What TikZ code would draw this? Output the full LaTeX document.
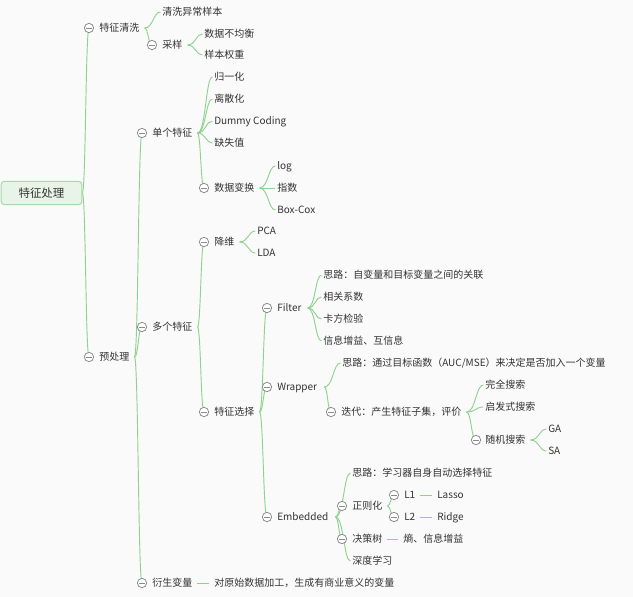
\documentclass[tikz,border=0pt]{standalone}
\usepackage{fontspec}
\setmainfont{Noto Sans CJK SC}
\usetikzlibrary{calc}
\definecolor{lc}{HTML}{8FD18F}
\definecolor{tc}{HTML}{333333}
\definecolor{cc}{HTML}{8C8C8C}
\definecolor{bgc}{HTML}{FAFAFA}
\definecolor{rootfill}{HTML}{E9F4E9}
\definecolor{rootdraw}{HTML}{A8D8A8}
\pgfdeclarelayer{back}
\pgfdeclarelayer{links}
\pgfsetlayers{back,links,main}
\begin{document}
\begin{tikzpicture}[x=0.75pt,y=-0.75pt,
  txt/.style={anchor=west, inner sep=0pt, text=tc, font=\fontsize{7.5pt}{9pt}\selectfont, text height=6.4pt, text depth=0.9pt},
  tog/.style={circle, draw=cc, fill=white, line width=0.6pt, minimum size=7pt, inner sep=0pt,
    path picture={\draw[cc, line width=0.6pt] ([xshift=-2.1pt]path picture bounding box.center) -- ([xshift=2.1pt]path picture bounding box.center);}},
  br/.style={draw=lc, line width=0.7pt, to path={let \p1=(\tikztostart), \p2=(\tikztotarget) in .. controls ({(\x1+\x2)/2},\y1) and ({(\x1+\x2)/2},\y2) .. (\tikztotarget)}},
  lf/.style={br, shorten >=1.2pt},
  dashln/.style={draw=lc, line width=0.7pt, shorten <=3.4pt, shorten >=3.4pt}
]
\useasboundingbox (0,0) rectangle (633,597);
\begin{pgfonlayer}{back}
\fill[bgc] (0,0) rectangle (633,597);
\end{pgfonlayer}

% root
\node[draw=rootdraw, fill=rootfill, rounded corners=2.5pt, line width=0.8pt, minimum width=60.5pt, minimum height=17.5pt, inner sep=0pt, text=tc, font=\fontsize{8.6pt}{10pt}\selectfont] (root) at (41.5,193) {特征处理};

% level 1
\node[tog] (c_qx) at (89,28) {};
\node[txt] (t_qx) at (99,28) {特征清洗};
\node[tog] (c_ycl) at (89,357) {};
\node[txt] (t_ycl) at (99,357) {预处理};

% 特征清洗
\node[txt] (l_qxyc) at (162,12) {清洗异常样本};
\node[tog] (c_cy) at (152,45) {};
\node[txt] (t_cy) at (162,45) {采样};
\node[txt] (l_bjh) at (204,34) {数据不均衡};
\node[txt] (l_qz) at (204,55) {样本权重};

% 预处理
\node[tog] (c_dg) at (142,133) {};
\node[txt] (t_dg) at (152,133) {单个特征};
\node[tog] (c_dd) at (142,327) {};
\node[txt] (t_dd) at (152,327) {多个特征};
\node[tog] (c_ys) at (142,583) {};
\node[txt] (t_ys) at (152,583) {衍生变量};
\node[txt] (l_ys) at (214,583) {对原始数据加工，生成有商业意义的变量};

% 单个特征
\node[txt] (l_gyh) at (214,77) {归一化};
\node[txt] (l_lsh) at (214,99) {离散化};
\node[txt] (l_dummy) at (214,121) {Dummy Coding};
\node[txt] (l_qsz) at (214,143) {缺失值};
\node[tog] (c_bh) at (204,188) {};
\node[txt] (t_bh) at (214,188) {数据变换};
\node[txt] (l_log) at (277,166) {log};
\node[txt] (l_zs) at (277,188) {指数};
\node[txt] (l_box) at (277,210) {Box-Cox};

% 多个特征
\node[tog] (c_jw) at (204,242) {};
\node[txt] (t_jw) at (214,242) {降维};
\node[txt] (l_pca) at (257,231) {PCA};
\node[txt] (l_lda) at (257,253) {LDA};
\node[tog] (c_xz) at (204,412) {};
\node[txt] (t_xz) at (214,412) {特征选择};

% 特征选择
\node[tog] (c_fi) at (267,308) {};
\node[txt] (t_fi) at (277,308) {Filter};
\node[tog] (c_wr) at (267,387) {};
\node[txt] (t_wr) at (277,387) {Wrapper};
\node[tog] (c_em) at (267,517) {};
\node[txt] (t_em) at (277,517) {Embedded};

% Filter
\node[txt] (l_fi1) at (323,275) {思路：自变量和目标变量之间的关联};
\node[txt] (l_fi2) at (323,297) {相关系数};
\node[txt] (l_fi3) at (323,319) {卡方检验};
\node[txt] (l_fi4) at (323,341) {信息增益、互信息};

% Wrapper
\node[txt] (l_wr1) at (342,363) {思路：通过目标函数（AUC/MSE）来决定是否加入一个变量};
\node[tog] (c_dd2) at (331,412) {};
\node[txt] (t_dd2) at (341,412) {迭代：产生特征子集，评价};
\node[txt] (l_wq) at (485,385) {完全搜索};
\node[txt] (l_qf) at (485,407) {启发式搜索};
\node[tog] (c_sj) at (476,440) {};
\node[txt] (t_sj) at (485,440) {随机搜索};
\node[txt] (l_ga) at (548,429) {GA};
\node[txt] (l_sa) at (548,451) {SA};

% Embedded
\node[txt] (l_em1) at (352,473) {思路：学习器自身自动选择特征};
\node[tog] (c_zz) at (342,506) {};
\node[txt] (t_zz) at (352,506) {正则化};
\node[tog] (c_l1) at (394,495) {};
\node[txt] (t_l1) at (404,495) {L1};
\node[txt] (l_lasso) at (437,495) {Lasso};
\node[tog] (c_l2) at (394,517) {};
\node[txt] (t_l2) at (404,517) {L2};
\node[txt] (l_ridge) at (437,517) {Ridge};
\node[tog] (c_jcs) at (342,539) {};
\node[txt] (t_jcs) at (352,539) {决策树};
\node[txt] (l_shang) at (403,539) {熵、信息增益};
\node[txt] (l_sd) at (352,561) {深度学习};

\begin{pgfonlayer}{links}
\coordinate (j_root) at (root.east);
\coordinate (j_qx) at ($(t_qx.east)+(5,0)$);
\coordinate (j_cy) at ($(t_cy.east)+(5,0)$);
\coordinate (j_ycl) at ($(t_ycl.east)+(5,0)$);
\coordinate (j_dg) at ($(t_dg.east)+(5,0)$);
\coordinate (j_bh) at ($(t_bh.east)+(5,0)$);
\coordinate (j_dd) at ($(t_dd.east)+(5,0)$);
\coordinate (j_jw) at ($(t_jw.east)+(5,0)$);
\coordinate (j_xz) at ($(t_xz.east)+(5,0)$);
\coordinate (j_fi) at ($(t_fi.east)+(6,0)$);
\coordinate (j_wr) at ($(t_wr.east)+(7,0)$);
\coordinate (j_dd2) at ($(t_dd2.east)+(5,0)$);
\coordinate (j_sj) at ($(t_sj.east)+(5,0)$);
\coordinate (j_em) at ($(t_em.east)+(7,0)$);
\coordinate (j_zz) at ($(t_zz.east)+(5,0)$);

\draw[br] (j_root) to (c_qx.center);
\draw[br] (j_root) to (c_ycl.center);

\draw[lf] (j_qx) to (l_qxyc.west);
\draw[br] (j_qx) to (c_cy.center);
\draw[lf] (j_cy) to (l_bjh.west);
\draw[lf] (j_cy) to (l_qz.west);

\draw[br] (j_ycl) to (c_dg.center);
\draw[br] (j_ycl) to (c_dd.center);
\draw[br] (j_ycl) to (c_ys.center);

\draw[lf] (j_dg) to (l_gyh.west);
\draw[lf] (j_dg) to (l_lsh.west);
\draw[lf] (j_dg) to (l_dummy.west);
\draw[lf] (j_dg) to (l_qsz.west);
\draw[br] (j_dg) to (c_bh.center);
\draw[lf] (j_bh) to (l_log.west);
\draw[lf] (j_bh) to (l_zs.west);
\draw[lf] (j_bh) to (l_box.west);

\draw[br] (j_dd) to (c_jw.center);
\draw[br] (j_dd) to (c_xz.center);
\draw[lf] (j_jw) to (l_pca.west);
\draw[lf] (j_jw) to (l_lda.west);

\draw[br] (j_xz) to (c_fi.center);
\draw[br] (j_xz) to (c_wr.center);
\draw[br] (j_xz) to (c_em.center);

\draw[lf] (j_fi) to (l_fi1.west);
\draw[lf] (j_fi) to (l_fi2.west);
\draw[lf] (j_fi) to (l_fi3.west);
\draw[lf] (j_fi) to (l_fi4.west);

\draw[lf] (j_wr) to (l_wr1.west);
\draw[br] (j_wr) to (c_dd2.center);
\draw[lf] (j_dd2) to (l_wq.west);
\draw[lf] (j_dd2) to (l_qf.west);
\draw[br] (j_dd2) to (c_sj.center);
\draw[lf] (j_sj) to (l_ga.west);
\draw[lf] (j_sj) to (l_sa.west);

\draw[lf] (j_em) to (l_em1.west);
\draw[br] (j_em) to (c_zz.center);
\draw[br] (j_em) to (c_jcs.center);
\draw[lf] (j_em) to (l_sd.west);
\draw[br] (j_zz) to (c_l1.center);
\draw[br] (j_zz) to (c_l2.center);

\draw[dashln] (t_l1) -- (l_lasso);
\draw[dashln] (t_l2) -- (l_ridge);
\draw[dashln] (t_jcs) -- (l_shang);
\draw[dashln] (t_ys) -- (l_ys);
\end{pgfonlayer}
\end{tikzpicture}
\end{document}
